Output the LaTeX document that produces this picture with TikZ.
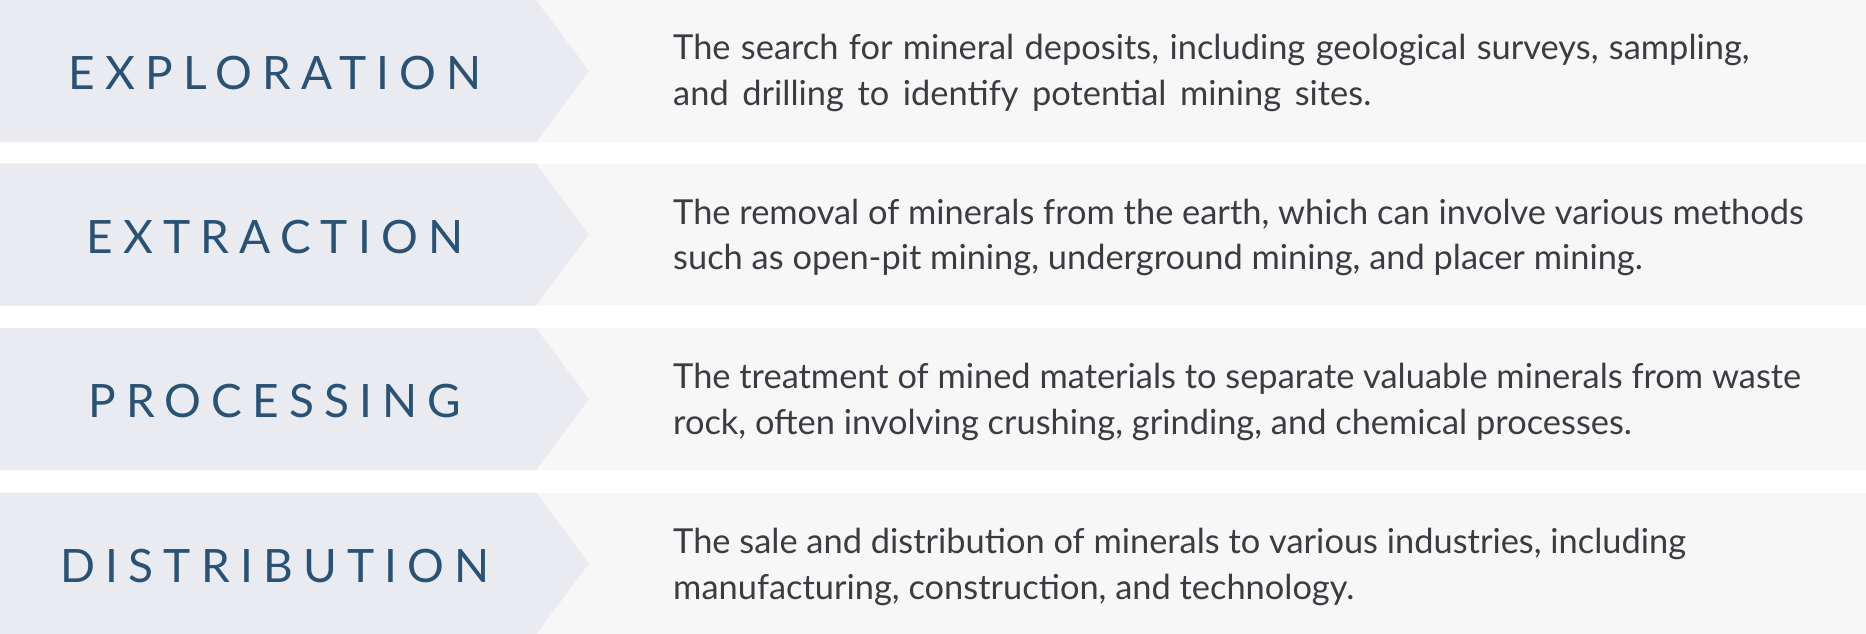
\documentclass[tikz,border=0pt]{standalone}
\usepackage{fontspec}
\setmainfont{Lato}
\newfontfamily\labelfont[LetterSpace=22]{Lato}
\definecolor{chevfill}{HTML}{E9EBF1}
\definecolor{rowfill}{HTML}{F7F7F8}
\definecolor{labelblue}{HTML}{2A5274}
\definecolor{desctext}{HTML}{3B3B42}
\tikzset{
  x=1pt, y=-1pt,
  rowbg/.style={fill=rowfill, draw=none},
  chevron/.style={fill=chevfill, draw=none},
  steplabel/.style={anchor=base, inner sep=0pt, text=labelblue, font=\labelfont\fontsize{46}{46}\selectfont},
  descline/.style={anchor=base west, inner sep=0pt, text=desctext, font=\fontsize{34.4}{46}\selectfont},
  widedesc/.style={descline, execute at begin node={\spaceskip=#1\relax}},
}
\begin{document}
\begin{tikzpicture}
\useasboundingbox (0,0) rectangle (1866,634);
\fill[white] (0,0) rectangle (1866,634);
% rows: top, center
\foreach \t in {0,163.5,328,492.5}{
  \fill[rowbg] (0,\t) rectangle (1866,\t+142);
  \fill[chevron] (0,\t) -- (536,\t) -- (589,\t+71) -- (536,\t+142) -- (0,\t+142) -- cycle;
}
\node[steplabel] (l1) at (275,71+18.5) {EXPLORATION};
\node[steplabel] (l2) at (275,234.5+18.5) {EXTRACTION};
\node[steplabel] (l3) at (275,399+18.5) {PROCESSING};
\node[steplabel] (l4) at (275,563.5+18.5) {DISTRIBUTION};

\node[widedesc=10.4pt] (d1a) at (673,59.5) {The search for mineral deposits, including geological surveys, sampling,};
\node[widedesc=13.6pt] (d1b) at (673,105.5) {and drilling to identify potential mining sites.};
\node[descline] (d2a) at (673,224) {The removal of minerals from the earth, which can involve various methods};
\node[descline] (d2b) at (673,269.5) {such as open-pit mining, underground mining, and placer mining.};
\node[descline] (d3a) at (673,388.5) {The treatment of mined materials to separate valuable minerals from waste};
\node[descline] (d3b) at (673,434) {rock, often involving crushing, grinding, and chemical processes.};
\node[descline] (d4a) at (673,553.5) {The sale and distribution of minerals to various industries, including};
\node[descline] (d4b) at (673,599) {manufacturing, construction, and technology.};
\end{tikzpicture}
\end{document}
